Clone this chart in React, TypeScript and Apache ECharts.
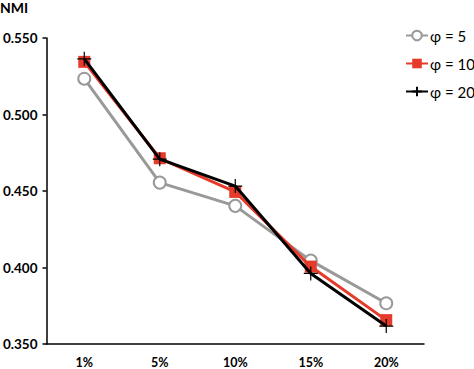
import React, { useEffect, useRef } from "react";
import * as echarts from "echarts";

const categories = ["1%", "5%", "10%", "15%", "20%"];
const phi5 = [0.5234, 0.4555, 0.4403, 0.4045, 0.3766];
const phi10 = [0.5344, 0.4714, 0.4494, 0.4006, 0.3656];
const phi20 = [0.5364, 0.4708, 0.4532, 0.3961, 0.3617];
const yTicks = [0.35, 0.4, 0.45, 0.5, 0.55];

const FONT = "Lato, 'Noto Sans', 'DejaVu Sans', sans-serif";

export default function App() {
  const ref = useRef<HTMLDivElement>(null);
  useEffect(() => {
    if (!ref.current) return;
    const chart = echarts.init(ref.current, undefined, { renderer: "svg" });
    chart.setOption({
      animation: false,
      backgroundColor: "#fff",
      textStyle: { fontFamily: FONT },
      grid: { left: 45, right: 50, top: 38, bottom: 25 },
      legend: {
        orient: "vertical",
        left: 400,
        top: 23,
        itemWidth: 22,
        itemHeight: 12,
        itemGap: 13,
        textStyle: { fontSize: 15, color: "#000", fontFamily: FONT, padding: [0, 0, 0, -3] },
        data: ["φ = 5", "φ = 10", "φ = 20"],
      },
      graphic: [
        {
          type: "text",
          left: 0,
          top: 0,
          style: { text: "NMI", font: `bold 14px ${FONT}`, fill: "#000" },
        },
      ],
      xAxis: {
        type: "category",
        data: categories,
        boundaryGap: true,
        axisLine: { lineStyle: { color: "#000", width: 1.5 } },
        axisTick: { inside: false, length: 5, lineStyle: { color: "#000", width: 1.5 } },
        axisLabel: { color: "#000", fontWeight: "bold", fontSize: 12.5, margin: 12, fontFamily: FONT },
      },
      yAxis: {
        type: "value",
        min: yTicks[0],
        max: yTicks[yTicks.length - 1],
        interval: 0.05,
        splitLine: { show: false },
        axisLine: { show: true, lineStyle: { color: "#000", width: 1.5 } },
        axisTick: { show: true, length: 4, lineStyle: { color: "#000", width: 1.5 } },
        axisLabel: {
          color: "#000",
          fontWeight: "bold",
          fontSize: 13.5,
          margin: 9,
          fontFamily: FONT,
          formatter: (v: number) => v.toFixed(3),
        },
      },
      series: [
        {
          name: "φ = 5",
          type: "line",
          data: phi5,
          symbol: "emptyCircle",
          symbolSize: 12,
          lineStyle: { color: "#999", width: 3 },
          itemStyle: { color: "#999", borderColor: "#999", borderWidth: 1.5 },
          z: 2,
        },
        {
          name: "φ = 10",
          type: "line",
          data: phi10,
          symbol: "rect",
          symbolSize: 12,
          lineStyle: { color: "#e63a2a", width: 3 },
          itemStyle: { color: "#e63a2a" },
          z: 3,
        },
        {
          name: "φ = 20",
          type: "line",
          data: phi20,
          symbol: "path://M0,-1L0,1M-1,0L1,0",
          symbolSize: 14,
          lineStyle: { color: "#000", width: 3 },
          itemStyle: { color: "#000", borderColor: "#000", borderWidth: 1.2 },
          z: 4,
        },
      ],
    });
    return () => chart.dispose();
  }, []);
  return <div ref={ref} style={{ width: 474, height: 369, position: "absolute", left: 0, top: 0 }} />;
}
